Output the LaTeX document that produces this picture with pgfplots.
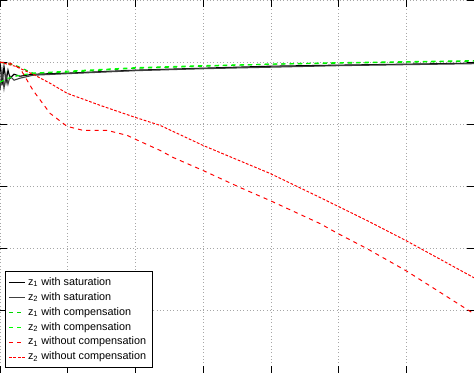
\documentclass[border=0pt]{standalone}
\usepackage{pgfplots}
\pgfplotsset{compat=1.18}
\usepackage{fontspec}
\setmainfont{Liberation Sans}
\begin{document}
\begin{tikzpicture}
\begin{axis}[
  scale only axis,
  width=12cm, height=9.443cm,
  xmin=0, xmax=7, ymin=0, ymax=6,
  xtick={0,1,2,3,4,5,6,7}, ytick={0,1,2,3,4,5,6},
  xticklabels={}, yticklabels={},
  tick align=inside, major tick length=5pt,
  tick style={black, line width=0.5pt},
  axis line style={draw=none},
  grid=major,
  major grid style={gray!70, dotted, line width=0.5pt},
  legend style={at={(0.0105,0.013)}, anchor=south west, font=\fontsize{7.8}{8.6}\selectfont,
    draw=black, line width=0.5pt, row sep=-0.4pt, inner sep=2.2pt, cells={anchor=west}},
  legend image code/.code={\draw[#1] plot coordinates {(0cm,0cm) (0.4cm,0cm)};},
  legend cell align=left,
]
\addplot[black, line width=0.8pt] coordinates {
(0,5.0)(0.030,4.629)(0.059,4.935)(0.089,4.677)(0.118,4.871)(0.148,4.742)(0.207,4.806)(0.295,4.774)(0.487,4.806)(0.990,4.823)(1.994,4.871)(2.998,4.903)(3.988,4.935)(4.993,4.952)(5.997,4.968)(7.0,4.984)};
\addlegendentry{z\textsubscript{1} with saturation}
\addplot[black!75, line width=0.8pt] coordinates {
(0,4.548)(0.030,4.871)(0.059,4.581)(0.089,4.806)(0.118,4.645)(0.148,4.774)(0.207,4.710)(0.295,4.742)(0.487,4.790)(0.990,4.815)(1.994,4.863)(2.998,4.895)(3.988,4.919)(4.993,4.944)(5.997,4.960)(7.0,4.976)};
\addlegendentry{z\textsubscript{2} with saturation}
\addplot[green!85!black, line width=0.8pt, dashed] coordinates {
(0,5.0)(0.222,4.952)(0.487,4.823)(0.990,4.839)(1.994,4.903)(2.998,4.935)(3.988,4.968)(4.993,4.984)(5.997,5.0)(7.0,5.016)};
\addlegendentry{z\textsubscript{1} with compensation}
\addplot[green, line width=0.8pt, dashed] coordinates {
(0,4.677)(0.118,4.742)(0.295,4.790)(0.487,4.823)(0.990,4.855)(1.994,4.911)(2.998,4.944)(3.988,4.968)(4.993,4.992)(5.997,5.008)(7.0,5.024)};
\addlegendentry{z\textsubscript{2} with compensation}
\addplot[red, line width=0.7pt, dashed] coordinates {
(0,5.0)(0.148,4.984)(0.295,4.903)(0.487,4.548)(0.739,4.177)(0.990,3.968)(1.226,3.903)(1.581,3.903)(1.876,3.823)(2.068,3.726)(2.363,3.581)(2.555,3.468)(2.998,3.258)(3.545,2.984)(3.988,2.774)(4.727,2.403)(4.993,2.242)(5.421,2.000)(5.997,1.645)(7.0,0.952)};
\addlegendentry{z\textsubscript{1} without compensation}
\addplot[red, line width=0.7pt, dash pattern=on 2pt off 1.2pt] coordinates {
(0,5.0)(0.222,4.935)(0.487,4.806)(0.739,4.661)(0.990,4.500)(1.477,4.306)(1.994,4.113)(2.363,3.984)(2.998,3.661)(3.988,3.210)(4.727,2.823)(5.421,2.452)(5.997,2.129)(7.0,1.532)};
\addlegendentry{z\textsubscript{2} without compensation}
\end{axis}
\pgfresetboundingbox
\useasboundingbox (current axis.south west) rectangle (current axis.north east);
\end{tikzpicture}
\end{document}
